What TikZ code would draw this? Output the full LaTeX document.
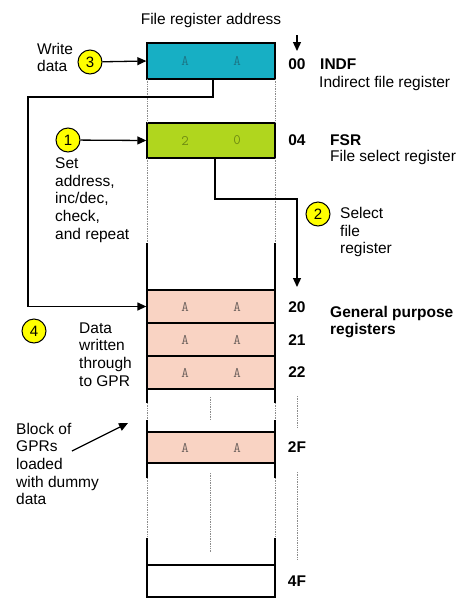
\documentclass[tikz,border=0pt]{standalone}
\usepackage{fontspec}
\setmainfont{Liberation Sans}
\usetikzlibrary{arrows.meta}
\definecolor{indfcol}{HTML}{17AFC4}
\definecolor{indftxt}{HTML}{1C7686}
\definecolor{fsrcol}{HTML}{B0D61E}
\definecolor{fsrtxt}{HTML}{6F8C12}
\definecolor{gprcol}{HTML}{F9D3C3}
\definecolor{gprtxt}{HTML}{6E625E}
\definecolor{dotcol}{HTML}{FFFF00}

\begin{document}
\begin{tikzpicture}[x=1pt,y=-1pt,
  txt/.style={inner sep=0pt,align=left,anchor=west,font=\fontsize{15.5}{17.6}\selectfont},
  adr/.style={inner sep=0pt,font=\fontsize{15.5}{17.6}\selectfont\bfseries},
  reg/.style={draw=black,line width=1.3pt,minimum width=128pt,inner sep=0pt},
  cell/.style={inner sep=0pt,font=\fontsize{14.5}{14.5}\selectfont\ttfamily},
  numdot/.style={circle,draw=black,fill=dotcol,line width=1pt,minimum size=24pt,inner sep=0pt,font=\fontsize{15}{15}\selectfont},
  side/.style={line width=1.3pt},
  guide/.style={black!45,densely dotted,line width=0.7pt},
  link/.style={line width=1.3pt,-{Triangle[length=9pt,width=8pt]}}]
\useasboundingbox (0,0) rectangle (474,606);
\node[txt,anchor=center] (title) at (211,20) {File register address};
\coordinate (adrtop) at (297,35);
\coordinate (adrbot) at (297,51);
\draw[link] (adrtop) -- (adrbot);
% register column
\node[reg,fill=indfcol,minimum height=36pt] (indf) at (211,61) {};
\node[reg,fill=fsrcol,minimum height=35pt] (fsr) at (211,140.5) {};
\node[reg,fill=gprcol,minimum height=33pt] (g20) at (211,306.5) {};
\node[reg,fill=gprcol,minimum height=33pt] (g21) at (211,339.5) {};
\node[reg,fill=gprcol,minimum height=33pt] (g22) at (211,372.5) {};
\node[reg,fill=gprcol,minimum height=31pt] (g2F) at (211,447.5) {};
\node[reg,minimum height=32pt] (g4F) at (211,581) {};
\node[cell,text=indftxt] at ([xshift=-26pt]indf.center) {A};
\node[cell,text=indftxt] at ([xshift=26pt]indf.center) {A};
\node[cell,text=fsrtxt] at ([xshift=-26pt]fsr.center) {2};
\node[cell,text=fsrtxt] at ([xshift=26pt]fsr.center) {0};
\foreach \r in {g20,g21,g22,g2F} {
  \node[cell,text=gprtxt] at ([xshift=-26pt]\r.center) {A};
  \node[cell,text=gprtxt] at ([xshift=26pt]\r.center) {A};
}
\foreach \x in {147,275} {
  \draw[guide] (\x,79) -- (\x,123);
  \draw[guide] (\x,158) -- (\x,243);
  \draw[side] (\x,243) -- (\x,290);
  \draw[side] (\x,389) -- (\x,403);
  \draw[guide] (\x,403) -- (\x,420);
  \draw[side] (\x,420) -- (\x,432);
  \draw[side] (\x,463) -- (\x,478);
  \draw[guide] (\x,478) -- (\x,538);
  \draw[side] (\x,538) -- (\x,565);
}
\draw[guide] (210,397) -- (210,420);
\draw[guide] (210,473) -- (210,552);
\draw[guide] (297,396) -- (297,428);
\draw[guide] (297,472) -- (297,559);
% addresses
\node[adr] (a00) at (297,64) {00};
\node[adr] (a04) at (297,140) {04};
\node[adr] (a20) at (297,307) {20};
\node[adr] (a21) at (297,340) {21};
\node[adr] (a22) at (297,372) {22};
\node[adr] (a2F) at (297,447) {2F};
\node[adr] (a4F) at (297,581) {4F};
\node[txt,font=\fontsize{15.5}{17.6}\selectfont\bfseries] (indfname) at (320,64) {INDF};
\node[txt] (indfdesc) at (319,83) {Indirect file register};
\node[txt,font=\fontsize{15.5}{17.6}\selectfont\bfseries] (fsrname) at (330,140) {FSR};
\node[txt] (fsrdesc) at (330,157) {File select register};
\node[txt,font=\fontsize{15.5}{17.6}\selectfont\bfseries] (gprname) at (330,322) {General purpose\\registers};
% steps
\node[numdot] (s3) at (90,62) {3};
\node[txt] (s3txt) at (37,57.5) {Write\\data};
\draw[link] (s3) -- (indf.west);
\node[numdot] (s1) at (68,140) {1};
\node[txt] (s1txt) at (55,200) {Set\\address,\\inc/dec,\\check,\\and repeat};
\draw[link] (s1) -- (fsr.west);
\node[numdot] (s2) at (318,214) {2};
\node[txt] (s2txt) at (340,232) {Select\\file\\register};
\coordinate (bend) at (297,199);
\coordinate (sel) at (297,287);
\draw[link] ([xshift=4pt]fsr.south) |- (bend) -- (sel);
\coordinate (loop) at (28,97);
\draw[link] ([xshift=2pt]indf.south) |- (loop) |- (g20.west);
\node[numdot] (s4) at (34,331) {4};
\node[txt] (s4txt) at (79,354.5) {Data\\written\\through\\to GPR};
\node[txt] (blocktxt) at (16,464) {Block of\\GPRs\\loaded\\with dummy\\data};
\coordinate (blockfrom) at (72,451);
\coordinate (blockto) at (128,423);
\draw[link] (blockfrom) -- (blockto);
\end{tikzpicture}
\end{document}
